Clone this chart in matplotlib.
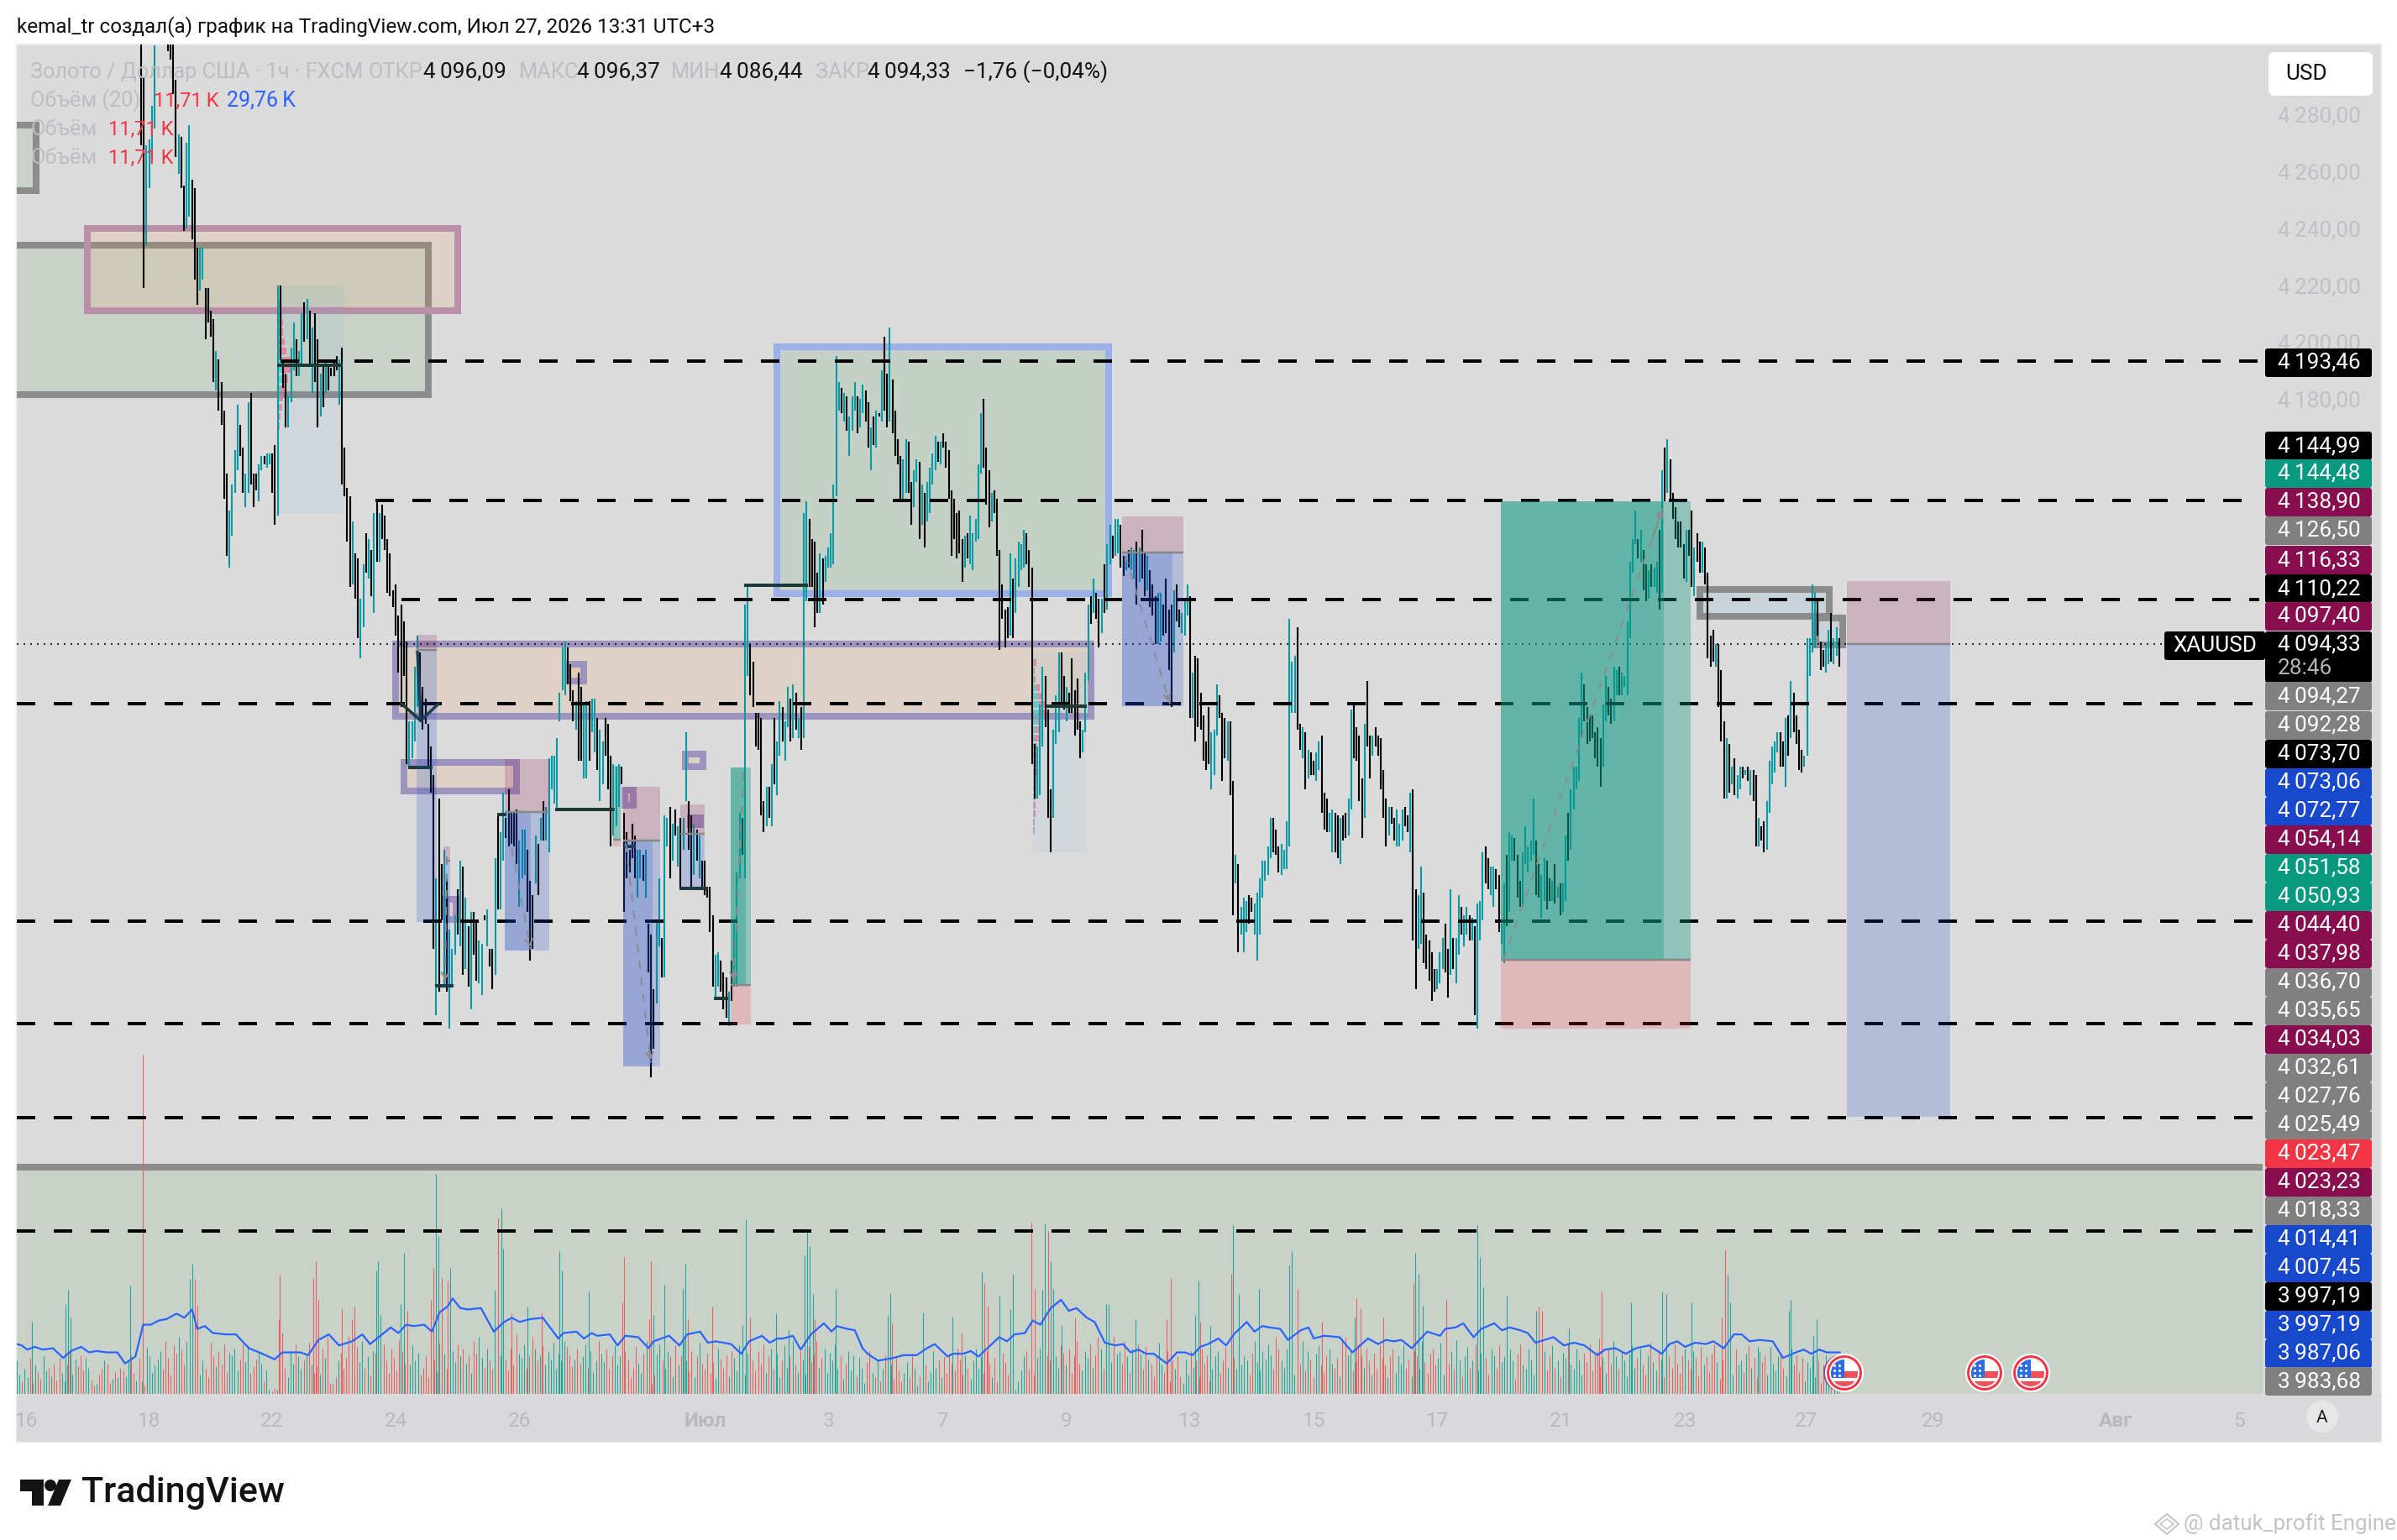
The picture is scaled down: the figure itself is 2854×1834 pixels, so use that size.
import numpy as np
import matplotlib
matplotlib.use("Agg")
import matplotlib.pyplot as plt
from matplotlib.patches import Rectangle, FancyBboxPatch, Circle, Polygon

plt.rcParams['font.family'] = ['Roboto', 'DejaVu Sans']
plt.rcParams['lines.scale_dashes'] = False

W, H = 2854, 1834
PL, PR, PT, PB = 20, 2694, 53, 1660
BAR_PX = 3.07
PRICE_TOP, PRICE_BOTTOM = 4304.4, 3831.0
px = 0.72

# ---------- candles as open, close pairs, by run of bars ----------
seg_a1 = [4305,4269, 4293,4219, 4234,4269, 4254,4271, 4264,4283, 4275,4304]
seg_a2 = [4310,4302, 4310,4299, 4305,4287, 4292,4265, 4259,4273, 4272,4254, 4255,4239, 4240,4270, 4244,4276,
 4257,4236, 4254,4222, 4233,4213, 4218,4233, 4222,4233, 4219,4201, 4219,4207, 4211,4202, 4208,4186, 4183,4197,
 4194,4176, 4186,4171, 4176,4145, 4154,4125, 4121,4141, 4132,4150, 4147,4162, 4155,4178, 4171,4160, 4163,4147,
 4142,4154, 4147,4179, 4182,4150, 4154,4142, 4154,4148, 4144,4157, 4155,4160, 4160,4157, 4156,4161, 4157,4161,
 4161,4147, 4164,4136, 4139,4220, 4220,4194, 4193,4184, 4189,4170, 4170,4181, 4179,4198, 4190,4207, 4201,4188,
 4188,4197, 4192,4210, 4214,4200, 4201,4215, 4211,4192, 4182,4205, 4210,4186, 4201,4170, 4174,4189, 4192,4177,
 4182,4194, 4192,4183, 4191,4188, 4193,4188, 4195,4190, 4178,4194, 4198,4150, 4163,4146, 4149,4130, 4146,4114,
 4115,4137, 4126,4110, 4124,4096, 4089,4110, 4100,4122, 4133,4119, 4117,4131, 4127,4111, 4105,4140, 4144,4123,
 4123,4140, 4143,4131, 4139,4127, 4131,4112, 4126,4111, 4113,4107, 4115,4097, 4104,4084]
seg_b = [4108,4072, 4102,4083, 4095,4052, 4051,4067, 4054,4067, 4060,4086, 4072,4097, 4091,4067, 4079,4064, 4075,4066,
 4066,4051, 4058,4042, 4048,3987, 3964,4012, 4040,3972, 4017,3997, 3974,4022, 4012,3972, 3959,3994, 3974,3987,
 3985,3999, 4008,3992, 3988,4018, 4016,3978, 3980,4005, 3995,3974, 3966,4000, 4000,3985, 3997,3976, 3975,3990,
 3971,3989, 3999,3997, 3988,4001, 3987,3981, 3987,3973, 3978,4019, 4034,4001, 4001,4028, 4018,4042, 4033,4026,
 4043,4023, 4035,4024, 4035,4023, 4036,4017, 4002,4025, 4012,4029, 4013,4029, 4022,4000, 4011,3983, 4006,3987,
 4010,4027, 4024,4006, 4025,4033, 4039,4025, 4025,4037, 4021,4054, 4043,4055, 4038,4055, 4036,4061, 4067,4077,
 4078,4093, 4076,4095, 4093,4080, 4087,4074, 4078,4067, 4064,4074, 4084,4053, 4079,4053, 4047,4073, 4047,4074,
 4074,4053, 4063,4075, 4056,4075, 4068,4050, 4039,4064, 4045,4060, 4068,4055, 4066,4043, 4055,4023, 4027,4052,
 4030,4051, 4037,4052, 4051,4045, 4035,4000, 4028,4012, 4022,4014, 4031,4019, 4027,4012, 4005,4022, 4012,4022,
 4020,4011, 4005,4022, 3996,3979, 3992,3942, 3973,3952, 3968,3997, 3988,4012, 3991,3977, 3977,4034, 4023,4033,
 4037,4012, 4018,4031, 4036,4027, 4016,4030, 4033,4008, 4022,4033, 4039,4063, 4039,4022, 4034,4009, 4013,4031,
 4029,4018, 4012,4027, 4018,4008, 4018,4006, 4009,4005, 4009,3993, 3999,3974, 3970,3985, 3974,3986, 3983,3972,
 3979,3966, 3977,3963, 3960,3972, 3983,3969, 3974,3996, 3974,4014, 4012,4035, 4033,4020, 4012,4108, 4083,4115,
 4094,4076, 4088,4072, 4070,4058]
seg_c = [4070,4057, 4068,4034, 4039,4028, 4030,4044, 4044,4033, 4030,4052, 4068,4045, 4041,4060, 4055,4074, 4072,4060,
 4053,4067, 4065,4079, 4075,4060, 4061,4080, 4077,4064, 4061,4068, 4072,4057, 4061,4140, 4109,4144, 4138,4114,
 4131,4114, 4130,4100, 4119,4105, 4105,4126, 4124,4108, 4116,4125, 4121,4128, 4121,4133, 4122,4150, 4146,4195,
 4176,4186, 4184,4175, 4172,4182, 4181,4169, 4160,4174, 4169,4181, 4176,4186, 4181,4168, 4170,4180, 4175,4185,
 4183,4172, 4179,4163, 4155,4170, 4174,4164, 4163,4176, 4175,4174, 4172,4190, 4202,4176, 4189,4170, 4172,4205,
 4187,4168, 4176,4160, 4166,4157, 4160,4145, 4145,4159, 4147,4166, 4165,4147, 4151,4136, 4142,4155, 4151,4159,
 4158,4131, 4136,4150, 4147,4128, 4137,4151, 4140,4156, 4150,4161, 4155,4167, 4165,4158, 4157,4165, 4168,4163,
 4165,4156, 4162,4145, 4148,4125, 4145,4131, 4140,4124, 4141,4126, 4131,4116, 4121,4132, 4133,4124, 4122,4139,
 4120,4133, 4130,4138, 4131,4157, 4154,4175, 4180,4156, 4163,4143, 4155,4135, 4137,4147, 4148,4140, 4145,4125,
 4127,4092, 4115,4103, 4106,4093, 4107,4096, 4097,4126, 4117,4096, 4105,4124, 4114,4130, 4120,4129, 4121,4134,
 4133,4122, 4127,4114, 4121,4052, 4059,4040, 4040,4058, 4041,4073, 4058,4086, 4083,4065, 4071,4033, 4043,4021,
 4033,4064, 4059,4076, 4063,4091, 4091,4073, 4083,4071, 4067,4079, 4077,4070, 4089,4070, 4078,4062, 4082,4064,
 4067,4054, 4056,4064, 4063,4084, 4081,4108, 4111,4101, 4105,4117, 4112,4103, 4110,4093, 4098,4110, 4122,4105,
 4106,4129]
seg_d = [4122,4136, 4132,4124, 4125,4138, 4126,4138, 4136,4121, 4125,4118, 4120,4125, 4127,4121, 4120,4128, 4117,4127,
 4130,4108, 4116,4128, 4134,4117, 4126,4111, 4113,4125, 4120,4107, 4115,4104, 4111,4094, 4094,4112, 4095,4112,
 4108,4097, 4117,4098, 4106,4085, 4108,4072, 4091,4113, 4115,4102, 4106,4100, 4098,4105, 4097,4109, 4104,4115]
seg_e = [4111,4068, 4068,4084, 4090,4060, 4089,4065, 4077,4064, 4069,4053, 4060,4050, 4072,4052, 4043,4063, 4048,4064,
 4062,4080, 4076,4068, 4070,4046, 4068,4054, 4053,4067, 4067,4041, 4046,3999, 4010,4020, 4017,3986, 3992,4002,
 3986,4005, 3993,4004, 4006,3996, 4005,4000, 3992,4003, 3983,4007, 3992,4012, 4005,4018, 4011,4018, 4013,4023,
 4019,4033, 4033,4021, 4029,4020, 4023,4014, 4013,4024, 4015,4022, 4015,4032, 4023,4103, 4070,4088, 4070,4090,
 4100,4064, 4066,4057, 4054,4065, 4063,4043, 4047,4057, 4056,4048, 4053,4048, 4046,4056, 4050,4060, 4062,4035,
 4042,4029, 4040,4028, 4028,4035, 4021,4036, 4035,4021, 4034,4019, 4017,4033, 4034,4025, 4035,4026, 4027,4040,
 4036,4071, 4073,4054, 4065,4053, 4062,4039, 4047,4026, 4033,4066, 4081,4058, 4062,4047, 4055,4062, 4065,4058,
 4062,4055, 4061,4043, 4050,4033, 4040,4023, 4027,4037, 4037,4031, 4033,4025, 4023,4036, 4023,4031, 4025,4036,
 4037,4030, 4034,4028, 4021,4042, 4043,3990, 4008,3973, 3987,4006, 3989,4016, 4007,3982, 3992,3980, 3990,3976,
 3986,3969, 3980,3972, 3973,3980, 3975,3986, 3980,3991, 3996,3979, 3987,3970, 3978,4008, 3991,3980, 3975,3991,
 3985,4006, 4002,3992, 3988,3999, 3992,4002, 3999,3990, 3990,3998, 3995,3964, 3959,4003, 3990,4004, 3997,4021,
 4023,4010, 4019,4008, 4006,4016, 4002,4016, 4015,4008, 4013,3993, 3989,3996, 3982,4010]
seg_f = [4020,3995, 4000,4028, 4018,4027, 4026,4018, 4020,4005, 4011,4002, 4002,4021, 4017,4030, 4014,4023, 4018,4025,
 4020,4040, 4025,4006, 4017,4005, 3998,4013, 4004,4019, 4018,4001, 4012,4004, 4004,4011, 4017,4003, 4005,4009,
 4010,3999, 4000,4010, 4004,4027, 4035,4018, 4022,4043, 4036,4051, 4043,4051, 4046,4068, 4061,4084, 4080,4067,
 4072,4059, 4069,4060, 4069,4061, 4063,4054, 4065,4051, 4061,4044, 4051,4073, 4067,4083, 4079,4069, 4075,4066,
 4067,4086, 4076,4085, 4086,4076, 4076,4084, 4079,4083, 4076,4102, 4096,4123, 4119,4131, 4129,4141, 4131,4124,
 4123,4134, 4127,4113, 4122,4109, 4110,4120, 4122,4114, 4114,4121, 4112,4123, 4134,4106, 4112,4155, 4163,4144,
 4147,4166, 4159,4144, 4147,4138, 4142,4131, 4137,4128, 4137,4128, 4129,4117, 4116,4134, 4134,4125, 4141,4114,
 4111,4128, 4133,4123, 4130,4119, 4119,4130, 4128,4115, 4119,4089, 4097,4086, 4099,4088, 4086,4094, 4094,4072,
 4085,4060, 4067,4040, 4040,4061, 4059,4042, 4045,4051, 4054,4041, 4040,4048, 4043,4051, 4051,4047, 4048,4050,
 4051,4046, 4041,4050, 4050,4039, 4048,4023, 4023,4033, 4030,4025, 4032,4021, 4022,4039, 4035,4053, 4045,4058,
 4049,4060, 4056,4063, 4063,4051, 4060,4051, 4044,4068, 4069,4055, 4061,4081, 4077,4063, 4069,4059, 4064,4050,
 4057,4049, 4051,4055, 4055,4096, 4083,4096, 4091,4115, 4093,4112, 4110,4097, 4095,4085, 4092,4086, 4084,4094,
 4087,4099, 4105,4088, 4087,4096, 4090,4100, 4096,4086]
seg_spans = [(seg_a1, 48.2, 53.4), (seg_a2, 58.6, 147.9), (seg_b, 149.1, 286.6), (seg_c, 287.6, 422.8),
             (seg_d, 424.0, 454.0), (seg_e, 455.0, 576.9), (seg_f, 577.8, 706.8)]

# ---------- volume, thousands ----------
carpet_k = [
 24,14,9,18,12,26,8,21,16,11,27,17,19,13,22,10,26,15,9,21,31,14,25,20,28,17,26,19,10,6,7,14,18,24,22,8,11,16,12,19,
 17,13,25,28,15,10,26,9,6,34,27,15,21,25,31,18,38,26,14,35,29,41,32,21,38,22,29,33,28,14,24,18,12,37,27,20,31,21,36,16,
 30,28,33,17,25,36,23,35,15,20,25,31,22,9,17,3,2,4,3,9,24,19,12,31,22,36,27,18,24,29,37,21,15,20,14,33,26,41,8,7,
 12,24,30,18,26,42,28,16,34,23,38,19,27,14,31,29,18,42,36,24,15,33,26,17,39,31,22,28,21,35,24,30,14,19,27,12,33,25,16,37,
 21,29,18,41,31,23,36,27,33,22,28,15,38,29,41,26,19,33,24,18,36,21,28,39,25,17,33,21,43,29,26,36,19,27,41,33,24,28,35,21,
 31,25,37,18,29,24,38,34,28,20,25,33,22,27,36,19,31,16,24,38,29,23,33,18,28,35,21,27,17,31,25,12,19,34,22,15,29,38,23,7,
 14,29,36,24,18,31,27,13,35,21,28,39,24,16,31,12,27,37,22,18,29,15,23,11,33,25,19,28,13,31,26,17,35,22,14,29,38,24,17,31,
 22,36,15,27,33,18,29,12,24,35,19,27,38,21,16,31,25,14,34,23,28,38,19,26,33,15,30,24,36,18,27,11,22,31,17,28,13,26,19,8,
 23,31,16,12,25,9,18,28,14,21,11,26,17,9,15,23,12,29,18,6,13,27,21,9,16,31,19,24,12,27,15,29,22,17,33,25,14,28,19,11,
 24,33,18,27,15,31,22,12,26,9,19,29,23,14,7,4,3,9,17,27,31,18,22,14,26,33,21,16,28,24,13,27,19,35,29,21,33,15,27,38,
 22,17,31,26,36,19,28,41,33,18,27,35,23,42,29,31,22,38,27,16,33,24,36,29,18,34,25,22,13,28,37,21,16,31,9,24,18,27,13,8,
 25,14,31,19,24,12,33,22,28,9,18,27,31,15,24,34,19,12,26,18,33,21,27,24,14,29,38,23,17,31,25,36,28,18,41,32,24,19,33,27,
 36,14,28,22,38,17,31,25,12,29,35,21,16,27,33,22,19,26,13,38,41,28,31,17,23,36,27,19,33,24,14,29,18,35,26,21,12,27,33,16,
 28,22,36,19,25,13,31,27,18,38,23,15,29,33,21,26,37,14,28,22,31,18,39,25,12,27,34,19,24,36,17,30,22,26,14,33,28,19,35,23,
 27,16,32,24,11,29,36,21,18,33,25,14,38,27,22,31,17,28,35,19,24,13,30,26,37,21,18,33,25,14,29,23,36,17,28,31,20,26,15,34,
 22,38,27,18,31,24,13,29,35,19,26,33,21,14,28,37,23,17,32,25,12,30,27,19,36,22,15,28,33,24,18,31,26,13,34,21,27,16,29,36,
 23,11,25,31,18,27,14,33,21,24,16,29,35,19,26,12,31,23,28,14,34,22,17,27,30,19,13,25,33,21,28,16,26,9,23,19,27,12,24,8,
 21,28,14,26,18,10,23]
spike_bar = [49,44,20,19,21,6,68,67,69,70,102,103,101.7,115,116,117,126,131,130,139.5,140,141,150,151.4,149,161.6,162.5,163.6,164.8,167,168,160.7,
 185.4,186.6,187.8,188.6,192,198,203.5,210.4,211.3,221.8,235.4,234.9,245.9,245.3,251.1,247,258.4,259.3,260.2,269.8,282.6,281.4,284.3,294.5,299.4,
 305.5,306.4,307.6,308.7,309.6,317.7,338.7,337.8,339.5,351.5,362.8,366.6,374.4,375.3,376.5,381.1,386.4,385.2,393.6,394.8,397.7,398.6,400,400.9,401.8,
 405.3,410.5,422.4,423.6,434,446,447.7,458.3,457,458.9,462.8,471,471.6,474,481.8,494.5,493.6,496.6,506.3,519.6,521.1,519,529.9,542.3,543.5,541.7,
 545.3,554.4,566.4,567.4,568.6,577.9,589.1,590.3,591.5,601.8,614.5,613.6,626,638.1,639.9,649.6,662.5,663.5,664.4,661.3,675.2,687.9,687.3,696.7,697.9]
spike_k = [245,78,75,65,55,52,94,83,83,64,86,44,54,84,96,68,62,63,54,89,96,57,102,60,65,91,159,114,84,82,91,68,
 75,127,134,105,58,63,59,103,89,74,99,66,96,54,79,57,76,94,54,63,126,50,55,58,46,
 100,117,107,72,54,76,73,57,51,59,56,44,88,80,64,71,87,61,124,76,75,123,118,96,76,
 50,55,65,65,54,54,84,82,57,52,49,87,122,72,76,103,93,76,52,69,62,55,55,102,87,80,
 64,68,122,99,77,71,60,63,60,48,74,40,66,74,72,66,104,86,66,55,34,68,60,42,54]
spike_red_bars = {49,69,70,102,103,101.7,115,116,117,126,131,130,151.4,161.6,164.8,167,160.7,186.6,192,203.5,235.4,234.9,245.9,245.3,260.2,269.8,284.3,
 309.6,339.5,366.6,375.3,376.5,393.6,394.8,400,410.5,446,447.7,458.9,471,496.6,506.3,519.6,521.1,529.9,541.7,554.4,590.3,591.5,614.5,613.6,662.5,661.3}
early_dir = "uuduuddudduududdduudduuddduuddudduddududduuddudud"
ma_bar = [0,2,4,7,10,14,18,21,25,28,31,35,39,42,46,49,52,55,58,62,65,68,70,73,76,81,85,90,94,100,103,110,113,117,121,125,130,134,137,145,148,151,154,158,161,164,167,169,172,175,180,185,189,192,195,199,204,210,212,217,220,223,225,230,233,236,241,245,247,253,257,260,265,268,271,277,281,284,289,292,295,297,301,304,308,313,316,318,322,325,328,330,334,340,344,349,353,356,361,363,367,370,373,377,381,384,387,391,394,397,401,405,408,411,415,418,422,426,429,432,435,438,441,446,450,453,456,459,462,466,469,472,477,480,483,486,490,493,498,501,503,507,513,518,524,528,531,534,537,541,547,552,554,558,561,565,568,573,576,579,583,586,589,596,600,604,608,613,616,620,624,628,633,638,641,644,647,651,655,658,662,666,669,672,676,681,685,690,693,696,699,702,707]
ma_k = [36,35,32,34,32,33,26,31,34,30,31,30,30,22,27,50,50,53,54,58,55,61,47,49,44,43,43,33,30,25,30,30,28,39,43,35,38,43,36,48,44,50,49,50,45,59,63,69,62,61,62,45,52,55,52,54,55,40,44,45,40,44,42,43,35,42,41,33,38,42,35,43,45,37,38,36,29,38,42,37,40,40,42,32,43,51,45,49,47,46,33,29,24,26,28,28,33,36,27,29,29,31,27,34,41,38,43,44,53,50,62,68,60,62,55,52,37,35,36,30,32,29,29,22,30,30,28,34,36,40,35,43,52,45,49,48,47,39,46,48,40,42,41,30,40,36,39,38,39,33,45,42,47,48,51,41,47,51,46,48,46,44,37,41,35,37,35,28,32,33,29,33,35,29,36,38,34,37,36,38,33,43,43,38,39,38,26,30,32,29,32,30,30]

# ---------- levels and drawings, in price and bar units ----------
dash_price = [4193.3, 4144.4, 4109.8, 4073.2, 3996.9, 3960.8, 3928.0, 3888.2]
dash_from_bar = [102.3, 139.1, 149.2, 0.0, 0.0, 0.0, 0.0, 0.0]
last_price = 4094.0
# rect: left bar, right bar, upper price, lower price
top_gray_boxes = [(-5, 7.5, 4276.1, 4253.1), (-5, 159.6, 4234.0, 4181.5)]
floor_box = (-5, 880, 3910.5, 3790)
pink_boxes = [(27.4, 171.0, 4239.9, 4211.0)]
blue_boxes = [(294.8, 423.5, 4198.3, 4111.7)]
purple_boxes = [(146.9, 416.6, 4094.0, 4068.7), (150.2, 193.8, 4052.5, 4042.5), (213.8, 220, 4087.1, 4081), (259.4, 266, 4055.6, 4051.2),
                (235.7, 239, 4042.9, 4037.6), (261.4, 265, 4033.2, 4030.6), (166.6, 170.5, 4004.6, 3997.3)]
small_gray = [(652.7, 703, 4113.2, 4103.8), (697.7, 708, 4103.2, 4093.8)]
# short position: left, right, stop, entry, target, bar where the darker part ends
shorts = [(155, 162.9, 4097.3, 4092, 3996.5, 155), (165.5, 168, 4023, 4018, 3973.5, 165.5), (189.3, 206.5, 4053.7, 4035.1, 3986.5, 199.3),
          (235.2, 249.5, 4044, 4025.1, 3945.9, 246.6), (257.3, 266.8, 4037.8, 4027.5, 4008.6, 257.3), (428.7, 452.4, 4138.8, 4126.2, 4072.2, 448.2),
          (709.8, 749.8, 4116.1, 4094, 3928.2, 709.8)]
# long position: left, right, target, entry, stop, bar where the darker part ends
longs = [(276.9, 284.7, 4050.7, 3974.4, 3960.6, 282.7), (231.3, 234.2, 4051.3, 4025.4, 4023, 231.3), (575.6, 649.2, 4144.1, 3983.3, 3959.1, 638.8)]
bars_zone = [(101, 126.7, 4220, 4139.7), (394, 415, 4091.4, 4021)]
thick_lines = [(151.8, 161.2, 4050.7), (162.2, 169.4, 3974.1), (208.8, 231.9, 4036), (257, 268, 4008.3), (270.4, 275.9, 3969.7), (282, 306.8, 4114.7),
               (186.3, 189.9, 4034.2), (235.5, 240, 4023), (101, 126.4, 4191.8), (399, 415, 4072.2)]
gray_arrows = [(576.5, 3983.3, 638.4, 4141.8), (191.9, 4022.5, 199.3, 3987), (236.2, 4024, 245.9, 3947.3), (430, 4125, 447.2, 4073.1),
               (281.8, 4049, 277.9, 3975.3), (166.8, 4019.5, 166.1, 3975.3)]
profile1_price = [4213.4, 4210.1, 4206.8, 4203.5, 4200.2, 4196.9, 4193.6, 4190.3, 4187, 4183.7, 4180.4, 4177.1, 4173.8, 4170.5]
profile1_buy = [.6, 1, 1.2, 1.2, 1.3, 1.6, 2.2, 2.6, 1.8, 1.2, 1, .8, .7, .5]
profile1_sell = [.5, 1, 1, 1.2, 1.6, 2, 3, 3, 2.4, 1.6, 1.2, 1, .7, .4]
profile2_price = [4087.6, 4084.6, 4081.7, 4078.7, 4075.8, 4072.8, 4069.9, 4066.9, 4064, 4061, 4058.1, 4055.1,
                  4052.2, 4049.2, 4046.3, 4043.3, 4040.4, 4037.4, 4034.5, 4031.5, 4028.6]
profile2_buy = [.5, .5, .8, 1.5, 2.2, 2.3, 2.3, 1.8, 1.2, .9, 1, .8, .9, .7, .5, .5, .5, .5, .5, .4, .4]
profile2_sell = [.8, .4, .3, 1.2, 1.8, 2.4, 2.4, 1, 1.2, 1.4, .8, 1.2, .8, .8, .6, .7, .6, .6, .5, .4, .3]

y_ticks = [4280, 4260, 4240, 4220, 4200, 4180]
y_labels = ["4\u2009280,00", "4\u2009260,00", "4\u2009240,00", "4\u2009220,00", "4\u2009200,00", "4\u2009180,00"]
x_ticks = [3.9, 51.5, 99, 147, 195, 267, 315, 359, 407, 455, 503, 551, 599, 647, 694, 743, 814, 862]
x_labels = ["16", "18", "22", "24", "26", "Июл", "3", "7", "9", "13", "15", "17", "21", "23", "27", "29", "Авг", "5"]

tag_text = ["4 193,46","4 144,99","4 144,48","4 138,90","4 126,50","4 116,33","4 110,22","4 097,40","4 094,33","4 094,27","4 092,28","4 073,70","4 073,06","4 072,77",
 "4 054,14","4 051,58","4 050,93","4 044,40","4 037,98","4 036,70","4 035,65","4 034,03","4 032,61","4 027,76","4 025,49","4 023,47","4 023,23","4 018,33",
 "4 014,41","4 007,45","3 997,19","3 997,19","3 987,06","3 983,68"]
tag_kind = "kktmgmkmkggkbbmttmmggmgggrmgbbkbbg"
tag_y = [432,531,564,598,632,667,701,734,769,829,864,898,932,966,1000,1034,1068,1102,1136,1170,1204,1238,1272,1306,1340,1374,1408,1442,1476,1510,1544,1578,1612,1645]
TAG_COL = dict(k="#000000", t="#089981", m="#880E4F", g="#808080", b="#1848CC", r="#F23645")
NUM_FS = 18.8

# ---------- layout ----------
fig = plt.figure(figsize=(W / 100, H / 100), dpi=100, facecolor="white")
def frac(l, t, r, b):
    return [l / W, 1 - b / H, (r - l) / W, (b - t) / H]

bg = fig.add_axes([0, 0, 1, 1], zorder=0)
bg.set_xlim(0, W); bg.set_ylim(H, 0); bg.axis("off")
bg.add_patch(Rectangle((20, 53), 2815, 1664, fc="#DBDBDB", ec="#E8E8E8", lw=1.5))
bg.add_patch(Rectangle((20, 1660), 2815, 57, fc="#D9D9DB", ec="none"))

# an axes with the floor box on the price scale, below the volume
ax_f = fig.add_axes(frac(PL, PT, PR, PB), zorder=0.5)
ax_f.patch.set_visible(False); ax_f.axis("off")
ax_v = fig.add_axes(frac(PL, PT, PR, PB), zorder=1)
ax_v.patch.set_visible(False); ax_v.axis("off")
ax = fig.add_axes(frac(PL, PT, PR, PB), zorder=2)
ax.patch.set_visible(False)
for s in ax.spines.values():
    s.set_visible(False)
ax.set_xlim(0, (PR - PL) / BAR_PX); ax.set_ylim(PRICE_BOTTOM, PRICE_TOP)
ax_f.set_xlim(ax.get_xlim()); ax_f.set_ylim(ax.get_ylim())
ax_v.set_xlim(ax.get_xlim()); ax_v.set_ylim(0, 975)

ax.yaxis.tick_right()
ax.set_yticks(y_ticks); ax.set_yticklabels(y_labels)
ax.tick_params(axis="y", length=0, pad=18 * px, labelsize=NUM_FS, labelcolor="#BFC0C6")
ax.set_xticks(x_ticks); ax.set_xticklabels(x_labels)
ax.tick_params(axis="x", length=0, pad=21 * px, labelsize=17.5, labelcolor="#B8B9C0")
for t, lab in zip(ax.get_xticklabels(), x_labels):
    if lab in ("Июл", "Авг"):
        t.set_fontweight("bold")

GREEN_FILL = ("#45984D", 0.12)
def box(b, ec, fc, alpha, lw=8, z=1, on=None):
    l, r, up, lo = b
    (on or ax).add_patch(Rectangle((l, lo), r - l, up - lo, fc=matplotlib.colors.to_rgba(fc, alpha), ec=ec, lw=lw * px, zorder=z, joinstyle="miter"))

box(floor_box, "#8C8C8C", *GREEN_FILL, on=ax_f)
for b in top_gray_boxes:
    box(b, "#8C8C8C", *GREEN_FILL)
for b in pink_boxes:
    box(b, "#BC8FA8", "#FF8C1A", 0.10)
for b in blue_boxes:
    box(b, "#9BB0E8", "#45984D", 0.14)
for b in purple_boxes:
    box(b, "#9E93BE", "#FF8C1A", 0.10, lw=8)
for b in small_gray:
    box(b, "#8C8C8C", "#5AA5D5", 0.14)
for l, r, up, lo in bars_zone:
    ax.add_patch(Rectangle((l, lo), r - l, up - lo, fc="#5AA5D5", alpha=0.08, ec="none", zorder=1))

for price_row, buy, sell, left in ((profile1_price, profile1_buy, profile1_sell, 101), (profile2_price, profile2_buy, profile2_sell, 394)):
    ax.barh(price_row, buy, left=left, height=2.4, color="#45C6C8", alpha=0.75, zorder=1.5)
    ax.barh(price_row, sell, left=left + np.array(buy), height=2.4, color="#EF6F92", alpha=0.75, zorder=1.5)

# candles
all_x, all_up = [], []
for seg, start, end in seg_spans:
    o = np.array(seg[0::2], float); c = np.array(seg[1::2], float)
    xs = np.linspace(start, end, len(o))
    up = c > o
    ax.vlines(xs[up], o[up], c[up], color="#089AA5", lw=2.1 * px, zorder=2, capstyle="butt")
    ax.vlines(xs[~up], o[~up], c[~up], color="#000000", lw=2.1 * px, zorder=2, capstyle="butt")
    all_x.append(xs); all_up.append(up)
all_x = np.concatenate(all_x); all_up = np.concatenate(all_up)

# volume
carpet_x = np.linspace(0, 706.8, len(carpet_k))
near = np.abs(all_x[None, :] - carpet_x[:, None]).argmin(axis=1)
carpet_up = all_up[near]
for i, ch in enumerate(early_dir):
    carpet_up[i] = ch == "u"
cols = np.where(carpet_up, "#22A699", "#F25C5E")
ax_v.vlines(carpet_x, 0, carpet_k, colors=cols, lw=1.05 * px)
spike_cols = ["#F25C5E" if b in spike_red_bars else "#22A699" for b in spike_bar]
ax_v.vlines(spike_bar, 0, spike_k, colors=spike_cols, lw=1.05 * px)
ax_v.plot(ma_bar, ma_k, color="#2962FF", lw=2.2 * px, zorder=4)

# levels
for p, start in zip(dash_price, dash_from_bar):
    ax.plot([start, (2690 - PL) / BAR_PX], [p, p], color="black", lw=4 * px, zorder=2.5,
            dashes=(22 * px, 22 * px), dash_capstyle="butt")
ax.plot([0, (2577 - PL) / BAR_PX], [last_price, last_price], color="black", lw=1.6 * px, zorder=2.4,
        dashes=(2 * px, 6 * px), dash_capstyle="butt")
for l, r, p in thick_lines:
    ax.plot([l, r], [p, p], color="#1E3A36", lw=4 * px, zorder=2.6, solid_capstyle="butt")
chev_x = [149.2, 156.7, 163.5]; chev_y = [4073.1, 4067.2, 4073.1]
ax.plot(chev_x, chev_y, color="#1E3A36", lw=3.5 * px, zorder=2.6)
ax.plot([155.4, 156.7], [4091.4, 4067.2], color="#1E3A36", lw=3.5 * px, zorder=2.6)

# position zones above the candles
def fill(l, r, up, lo, col, a):
    if r > l:
        ax.add_patch(Rectangle((l, lo), r - l, up - lo, fc=col, alpha=a, ec="none", zorder=3))

for l, r, stop, entry, target, dark in shorts:
    fill(l, r, stop, entry, "#880E4F", 0.2)
    fill(l, dark, entry, target, "#1848CC", 0.35)
    fill(dark, r, entry, target, "#1848CC", 0.2)
    ax.plot([l, r], [entry, entry], color="#888888", lw=2.5 * px, zorder=3.1, solid_capstyle="butt")
for l, r, target, entry, stop, dark in longs:
    fill(l, dark, target, entry, "#089981", 0.57)
    fill(dark, r, target, entry, "#089981", 0.35)
    fill(l, r, entry, stop, "#F23645", 0.21)
    ax.plot([l, r], [entry, entry], color="#888888", lw=2.5 * px, zorder=3.1, solid_capstyle="butt")
for x0, y0, x1, y1 in gray_arrows:
    ax.plot([x0, x1], [y0, y1], color="#8F8A8F", lw=2 * px, zorder=3.2, dashes=(10 * px, 10 * px))
    ax.annotate("", xy=(x1, y1), xytext=(x0 + (x1 - x0) * 0.93, y0 + (y1 - y0) * 0.93), zorder=3.2,
                arrowprops=dict(arrowstyle="->,head_length=0.5,head_width=0.3", color="#8F8A8F", lw=1.6))

# ---------- screen furniture ----------
ui = fig.add_axes([0, 0, 1, 1], zorder=5)
ui.set_xlim(0, W); ui.set_ylim(H, 0); ui.axis("off"); ui.patch.set_visible(False)

ui.text(20, 32, "kemal_tr создал(а) график на TradingView.com, Июл 27, 2026 13:31 UTC+3", fontsize=17.5, va="center", color="#0F0F0F")

GR = "#BDBEC4"
for x, s, c, fs in [(36, "Золото / Доллар США · 1ч · FXCM", GR, 18.2), (439, "ОТКР", GR, 18.2), (504, "4\u2009096,09", "#111111", NUM_FS), (618, "МАКС", GR, 18.2),
                (687, "4\u2009096,37", "#111111", NUM_FS), (799, "МИН", GR, 18.2), (857, "4\u2009086,44", "#111111", NUM_FS), (971, "ЗАКР", GR, 18.2),
                (1033, "4\u2009094,33", "#111111", NUM_FS), (1147, "\u22121,76 (\u22120,04%)", "#111111", NUM_FS)]:
    ui.text(x, 86, s, fontsize=fs, va="center", color=c)
ui.text(36, 120, "Объём (20)", fontsize=18.2, va="center", color=GR)
ui.text(183, 120, "11,71\u2009K", fontsize=17, va="center", color="#F23645")
ui.text(270, 120, "29,76\u2009K", fontsize=18, va="center", color="#2962FF")
for y in (154, 188):
    ui.text(36, y, "Объём", fontsize=18.2, va="center", color=GR)
    ui.text(129, y, "11,71\u2009K", fontsize=17, va="center", color="#F23645")

ui.add_patch(FancyBboxPatch((2701, 62), 124, 52, boxstyle="round,pad=0,rounding_size=7", fc="white", ec="none"))
ui.text(2721, 88, "USD", fontsize=NUM_FS, va="center", color="#111111")

for s, kind, y in zip(tag_text, tag_kind, tag_y):
    s = s.replace(" ", "\u2009")
    if s == "4\u2009094,33":
        ui.add_patch(FancyBboxPatch((2697, 752), 127, 61, boxstyle="round,pad=0,rounding_size=3", fc="#000000", ec="none"))
        ui.text(2712, 768, s, fontsize=NUM_FS, color="white", va="center")
        ui.text(2712, 796, "28:46", fontsize=NUM_FS, color="#B5B5B5", va="center")
    else:
        ui.add_patch(FancyBboxPatch((2697, y - 17), 127, 34, boxstyle="round,pad=0,rounding_size=3", fc=TAG_COL[kind], ec="none"))
        ui.text(2712, y, s, fontsize=NUM_FS, color="white", va="center")
ui.add_patch(FancyBboxPatch((2577, 752), 120, 34, boxstyle="round,pad=0,rounding_size=3", fc="#000000", ec="none"))
ui.text(2637, 769, "XAUUSD", fontsize=NUM_FS, color="white", va="center", ha="center")

ui.add_patch(Circle((2765, 1687), 19, fc="#E6E6E6", ec="none"))
ui.text(2765, 1688, "A", fontsize=15, color="#222222", va="center", ha="center")

def flag(cx, cy, r=22):
    ui.add_patch(Circle((cx, cy), r, fc="#F23645", ec="white", lw=1.5))
    ui.add_patch(Circle((cx, cy), r - 4, fc="white", ec="none"))
    clip = Circle((cx, cy), r - 6, transform=ui.transData)
    for y0, h, col in [(cy - 2, 8, "#F0505C"), (cy + 10, 12, "#F0505C")]:
        p = Rectangle((cx - r, y0), 2 * r, h, fc=col, ec="none"); ui.add_patch(p); p.set_clip_path(clip)
    p = Rectangle((cx - r, cy - r), r, r + 6, fc="#2E6BE6", ec="none"); ui.add_patch(p); p.set_clip_path(clip)
    ui.scatter([cx - 12, cx - 6, cx - 12, cx - 6, cx - 12, cx - 6], [cy - 9, cy - 9, cy - 3, cy - 3, cy + 3, cy + 3], s=5, c="white", linewidths=0, zorder=6)

ui.add_patch(Circle((2193, 1635), 22, fc="#8A4A9A", ec="none"))
for cx in (2196, 2363, 2418):
    flag(cx, 1635)

# logo
ui.add_patch(Polygon([(24, 1762), (52, 1762), (52, 1793), (38, 1793), (38, 1776), (24, 1776)], fc="#131313", ec="none"))
ui.add_patch(Circle((60, 1769), 7, fc="#131313", ec="none"))
ui.add_patch(Polygon([(70, 1762), (85, 1762), (72, 1793), (57, 1793)], fc="#131313", ec="none"))
ui.text(97, 1778, "TradingView", fontsize=31, fontweight="medium", color="#131313", va="center")

# watermark
ui.add_patch(Polygon([(2566, 1815), (2580, 1803), (2594, 1815), (2580, 1827)], fc="none", ec="#C6C6C6", lw=1.5))
ui.add_patch(Polygon([(2572, 1815), (2580, 1809), (2588, 1815), (2580, 1821)], fc="none", ec="#C6C6C6", lw=1.2))
ui.text(2600, 1815, "@ datuk_profit Engine", fontsize=18.7, color="#C4C4C4", va="center", clip_on=True)

fig.savefig("out.png", dpi=100, facecolor="white")
